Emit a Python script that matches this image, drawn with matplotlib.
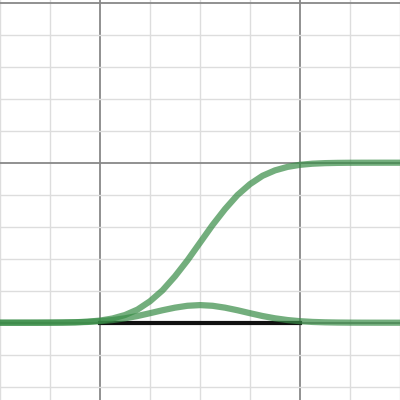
import matplotlib
matplotlib.use("Agg")
import matplotlib.pyplot as plt
import numpy as np

x_vals = [-2 + 0.25 * i for i in range(33)]
left_cdf = [0, 0, 0.0003, 0.0008, 0.0022, 0.0056, 0.0136, 0.031, 0.066, 0.131, 0.24, 0.41, 0.67, 1.01, 1.45, 1.95, 2.5]
cdf_vals = left_cdf + [5 - v for v in left_cdf[:-1][::-1]]
left_bump = [0, 0.0001, 0.0003, 0.0008, 0.0021, 0.0052, 0.0116, 0.024, 0.047, 0.083, 0.137, 0.209, 0.297, 0.389, 0.47, 0.529, 0.55]
bump_vals = left_bump + left_bump[:-1][::-1]
base_x = [0, 4]
base_y = [0, 0]

fig = plt.figure(figsize=(4, 4), dpi=100)
ax = fig.add_axes([0, 0, 1, 1])
ax.set_xlim(-2, 6)
ax.set_ylim(-(400 - 322.7) / 32, 322.7 / 32)
for xv in np.arange(-2, 6.01, 1):
    major = abs(xv % 4) < 1e-9
    ax.axvline(xv, color='#888888' if major else '#dddddd', lw=1.3 if major else 1.0, zorder=0)
for yv in np.arange(-2, 10.01, 1):
    major = abs(yv % 5) < 1e-9
    ax.axhline(yv, color='#888888' if major else '#dddddd', lw=1.3 if major else 1.0, zorder=0)
ax.plot(base_x, base_y, color='#111111', lw=3, zorder=2)
ax.plot(x_vals, cdf_vals, color='#388c46', alpha=0.7, lw=4.5, zorder=3, solid_capstyle='round')
ax.plot(x_vals, bump_vals, color='#388c46', alpha=0.7, lw=4.5, zorder=3, solid_capstyle='round')
ax.axis('off')
fig.savefig('out.png', dpi=100)
